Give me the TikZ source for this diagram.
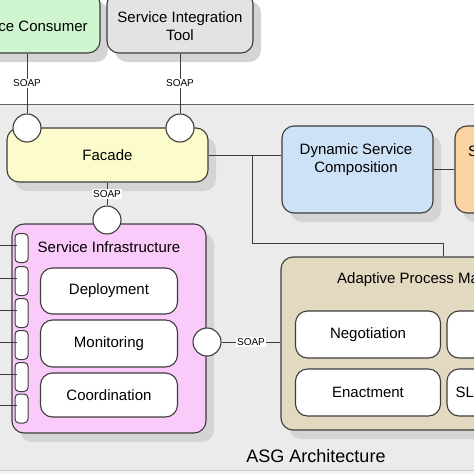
\documentclass[tikz,border=0pt]{standalone}
\usepackage{fontspec}
\setmainfont{Liberation Sans}
\usetikzlibrary{shadows}
\definecolor{edge}{HTML}{3C3C3C}
\definecolor{bgc}{HTML}{EBEBEB}
\definecolor{shadowc}{HTML}{D4D4D4}
\definecolor{greenc}{HTML}{CFF5CF}
\definecolor{grayc}{HTML}{E3E3E3}
\definecolor{yellowc}{HTML}{FBFBCB}
\definecolor{bluec}{HTML}{CDE1F7}
\definecolor{orangec}{HTML}{FCD3A2}
\definecolor{pinkc}{HTML}{FACBFA}
\definecolor{tanc}{HTML}{E3D9C0}
\begin{document}
\begin{tikzpicture}[x=1pt,y=-1pt,
  box/.style={draw=edge, line width=1.1pt, rounded corners=12pt, inner sep=0pt,
    drop shadow={shadow xshift=8pt, shadow yshift=-9pt, fill=shadowc, opacity=1}},
  innerbox/.style={draw=edge, line width=1.1pt, rounded corners=12pt, fill=white, inner sep=0pt,
    font=\fontsize{15}{18}\selectfont},
  port/.style={circle, draw=edge, line width=1.1pt, fill=white, minimum size=28pt, inner sep=0pt},
  plug/.style={draw=edge, line width=1pt, rounded corners=4pt, fill=white,
    minimum width=13pt, minimum height=29pt, inner sep=0pt},
  soap/.style={fill=white, inner sep=1pt, font=\fontsize{10}{12}\selectfont},
  wire/.style={draw=edge, line width=1pt},
  txt/.style={font=\fontsize{15}{18}\selectfont, align=center, inner sep=0pt}]
\useasboundingbox (0,0) rectangle (474,474);
\clip (0,0) rectangle (474,474);
% architecture background
\fill[bgc] (0,104) rectangle (474,470);
\fill[black!4] (0,470) rectangle (474,474);
\draw[edge!80, line width=1pt] (0,104) -- (474,104);
\draw[black!20, line width=0.8pt] (0,470) -- (474,470);
\node[font=\fontsize{18}{21}\selectfont, inner sep=0pt] (asg) at (316,456) {ASG Architecture};
% top boxes
\node[box, fill=greenc, minimum width=148pt, minimum height=61pt] (sc) at (26,22.5) {};
\node[txt] (sct) at (26,26) {Service Consumer};
\node[box, fill=grayc, minimum width=146pt, minimum height=61pt] (sit) at (180,22.5) {};
\node[txt] (sitt) at (180,26) {Service Integration\\Tool};
% facade
\node[box, fill=yellowc, minimum width=201pt, minimum height=54pt, font=\fontsize{15}{18}\selectfont] (fac) at (107.5,155) {Facade};
% dynamic service composition
\node[box, fill=bluec, minimum width=151pt, minimum height=87pt] (dsc) at (357.5,169.5) {};
\node[txt] (dsct) at (356,160) {Dynamic Service\\Composition};
\node[box, fill=orangec, minimum width=80pt, minimum height=87pt] (orb) at (495,169.5) {};
\node[txt, anchor=west] (orbt) at (468,151) {S};
% service infrastructure
\node[box, fill=pinkc, minimum width=194pt, minimum height=209pt] (si) at (109,328.5) {};
\node[txt] (sit2) at (109,247) {Service Infrastructure};
\node[innerbox, minimum width=137pt, minimum height=46pt] (dep) at (109,291) {Deployment};
\node[innerbox, minimum width=137pt, minimum height=47pt] (mon) at (109,343.5) {Monitoring};
\node[innerbox, minimum width=137pt, minimum height=44pt] (coo) at (109,395) {Coordination};
% adaptive process management
\node[box, fill=tanc, minimum width=249pt, minimum height=173pt] (apm) at (405.5,343.5) {};
\node[txt, anchor=west] (apmt) at (337,280) {Adaptive Process Management};
\node[innerbox, minimum width=145pt, minimum height=47pt] (neg) at (368,334.5) {Negotiation};
\node[innerbox, minimum width=145pt, minimum height=47pt] (ena) at (368,392.5) {Enactment};
\node[innerbox, minimum width=145pt, minimum height=47pt] (r1) at (519.5,334.5) {};
\node[innerbox, minimum width=145pt, minimum height=47pt] (r2) at (519.5,392.5) {};
\node[txt, anchor=west] (r2t) at (455.5,392.5) {SL};
% ports
\node[port] (p1) at (27,128) {};
\node[port] (p2) at (180,128) {};
\node[port] (p3) at (107,220) {};
\node[port] (p4) at (207,342) {};
% plugs on the left
\foreach \i/\y in {1/248,2/281,3/313,4/345,5/377,6/408.5}{
  \node[plug] (q\i) at (21.5,\y) {};
  \draw[wire] ([yshift=3pt,xshift=2pt]q\i.west) -- ++(-20,0);
}
% connectors
\draw[wire] (p1 |- sc.south) -- node[soap]{SOAP} (p1);
\draw[wire] (p2 |- sit.south) -- node[soap]{SOAP} (p2);
\draw[wire] (fac.south -| p3) -- node[soap]{SOAP} (p3);
\draw[wire] (p4) -- node[soap]{SOAP} (p4 -| apm.west);
\coordinate (j1) at (252,243);
\coordinate (j2) at (443,243);
\draw[wire] (fac.east) -- (fac.east -| dsc.west);
\draw[wire] (fac.east -| j1) -- (j1) -- (j2) -- (j2 |- apm.north);
\draw[wire] (dsc.east) -- (orb.west);
\end{tikzpicture}
\end{document}
